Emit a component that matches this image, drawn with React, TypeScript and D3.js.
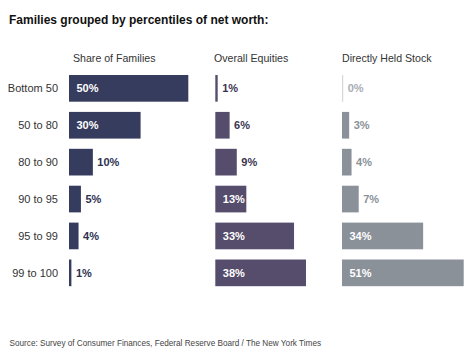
import { useEffect, useRef } from "react";
import * as d3 from "d3";

const groups = ["Bottom 50", "50 to 80", "80 to 90", "90 to 95", "95 to 99", "99 to 100"];
const columns = ["Share of Families", "Overall Equities", "Directly Held Stock"];
const shareOfFamilies = [50, 30, 10, 5, 4, 1];
const overallEquities = [1, 6, 9, 13, 33, 38];
const directlyHeldStock = [0, 3, 4, 7, 34, 51];

const barColors = ["#363c5e", "#564c6c", "#8a9199"];
const outsideLabelColors = ["#2c3150", "#3a344f", "#8a9199"];

export default function App() {
  const svgRef = useRef<SVGSVGElement | null>(null);

  useEffect(() => {
    const width = 474;
    const height = 362;
    const svg = d3.select(svgRef.current);
    svg.selectAll("*").remove();
    svg.attr("width", width).attr("height", height).attr("viewBox", `0 0 ${width} ${height}`);

    const font = "'Liberation Sans', Arial, sans-serif";

    svg.append("rect").attr("width", width).attr("height", height).attr("fill", "#fff");

    svg.append("text")
      .attr("x", 9)
      .attr("y", 23.5)
      .attr("font-family", font)
      .attr("font-weight", "bold")
      .attr("font-size", 12)
      .attr("fill", "#111")
      .text("Families grouped by percentiles of net worth:");

    const y = d3.scaleBand<string>()
      .domain(groups)
      .range([69.9, 291.3])
      .paddingInner(0.277)
      .paddingOuter(0.1385);

    const x = d3.scaleLinear().domain([0, 51]).range([0, 121.7]);

    const colX = [69, 215.3, 342];
    const headerX = [73, 214, 342];
    const series = [shareOfFamilies, overallEquities, directlyHeldStock];

    // row labels
    svg.append("g")
      .selectAll("text")
      .data(groups)
      .enter()
      .append("text")
      .attr("x", 58)
      .attr("y", (d) => (y(d) || 0) + y.bandwidth() / 2 + 4)
      .attr("text-anchor", "end")
      .attr("font-family", font)
      .attr("font-size", 11)
      .attr("fill", "#333")
      .text((d) => d);

    columns.forEach((col, ci) => {
      const g = svg.append("g").attr("transform", `translate(${colX[ci]},0)`);

      svg.append("text")
        .attr("x", headerX[ci])
        .attr("y", 61.5)
        .attr("font-family", font)
        .attr("font-size", 10.6)
        .attr("fill", "#333")
        .text(col);

      const rows = series[ci].map((v, i) => ({ group: groups[i], value: v }));

      g.selectAll("rect.bar")
        .data(rows)
        .enter()
        .append("rect")
        .attr("class", "bar")
        .attr("x", 0)
        .attr("y", (d) => y(d.group) || 0)
        .attr("width", (d) => Math.max(x(d.value), 1.2))
        .attr("height", y.bandwidth())
        .attr("fill", (d) => (d.value === 0 ? "#d4d6d9" : barColors[ci]));

      g.selectAll("text.val")
        .data(rows)
        .enter()
        .append("text")
        .attr("class", "val")
        .attr("x", (d) => (d.value >= 12 ? 7.5 : Math.max(x(d.value), 1.2) + 4.5))
        .attr("y", (d) => (y(d.group) || 0) + y.bandwidth() / 2 + 4)
        .attr("font-family", font)
        .attr("font-weight", "bold")
        .attr("font-size", 11)
        .attr("fill", (d) =>
          d.value >= 12 ? "#fff" : d.value === 0 ? "#a9adb2" : outsideLabelColors[ci]
        )
        .text((d) => `${d.value}%`);
    });

    svg.append("text")
      .attr("x", 9.5)
      .attr("y", 346)
      .attr("font-family", font)
      .attr("font-size", 8.2)
      .attr("fill", "#444")
      .text("Source:  Survey of Consumer Finances, Federal Reserve Board / The New York Times");
  }, []);

  return (
    <svg
      ref={svgRef}
      style={{ position: "absolute", left: 0, top: 0, display: "block" }}
    />
  );
}
